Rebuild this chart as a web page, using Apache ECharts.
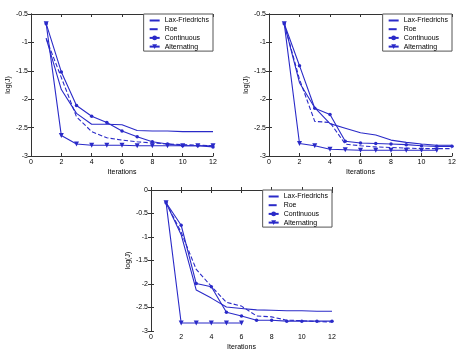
<!DOCTYPE html>
<html><head><meta charset="utf-8">
<script src="https://cdn.jsdelivr.net/npm/echarts@6/dist/echarts.min.js"></script>
<style>html,body{margin:0;padding:0;background:#fff}#c{width:474px;height:352px}</style>
</head><body><div id="c"></div><script>
const iterations = [1,2,3,4,5,6,7,8,9,10,11,12];
const seriesNames = ['Lax-Friedrichs','Roe','Continuous','Alternating'];
const xAxisName = 'Iterations';
const yAxisName = 'log(J)';
// Panel 1 (top left)
const p1LaxFriedrichs = [-0.93,-1.83,-2.25,-2.44,-2.44,-2.45,-2.55,-2.56,-2.56,-2.57,-2.57,-2.57];
const p1Roe = [-0.93,-1.62,-2.31,-2.57,-2.68,-2.72,-2.75,-2.77,-2.79,-2.80,-2.81,-2.82];
const p1Continuous = [-0.67,-1.52,-2.11,-2.30,-2.41,-2.56,-2.66,-2.75,-2.79,-2.82,-2.82,-2.84];
const p1Alternating = [-0.67,-2.64,-2.79,-2.81,-2.81,-2.81,-2.82,-2.82,-2.82,-2.82,-2.82,-2.82];
// Panel 2 (top right)
const p2LaxFriedrichs = [-0.67,-1.71,-2.15,-2.43,-2.51,-2.59,-2.63,-2.72,-2.76,-2.79,-2.81,-2.81];
const p2Roe = [-0.67,-1.65,-2.39,-2.41,-2.79,-2.82,-2.84,-2.85,-2.86,-2.87,-2.87,-2.87];
const p2Continuous = [-0.67,-1.41,-2.16,-2.27,-2.74,-2.77,-2.78,-2.79,-2.80,-2.82,-2.83,-2.83];
const p2Alternating = [-0.67,-2.78,-2.82,-2.88,-2.89,-2.90,-2.90,-2.90,-2.90,-2.90,-2.90];
// Panel 3 (bottom)
const p3LaxFriedrichs = [-0.27,-0.95,-2.13,-2.30,-2.49,-2.52,-2.55,-2.56,-2.57,-2.57,-2.58,-2.58];
const p3Roe = [-0.27,-0.90,-1.69,-2.05,-2.39,-2.47,-2.68,-2.70,-2.77,-2.78,-2.80,-2.81];
const p3Continuous = [-0.27,-0.75,-1.99,-2.06,-2.60,-2.68,-2.77,-2.77,-2.79,-2.79,-2.79,-2.79];
const p3Alternating = [-0.27,-2.83,-2.83,-2.83,-2.83,-2.83];

const BLUE = '#2a2ac8';
const FONT = 'Liberation Sans';
const panels = [
  {grid:{left:31,top:14,width:182,height:142}, ymin:-3, ymax:-0.5, data:[p1LaxFriedrichs,p1Roe,p1Continuous,p1Alternating]},
  {grid:{left:269,top:14,width:183,height:142}, ymin:-3, ymax:-0.5, data:[p2LaxFriedrichs,p2Roe,p2Continuous,p2Alternating]},
  {grid:{left:151,top:190,width:181,height:142}, ymin:-3, ymax:0, data:[p3LaxFriedrichs,p3Roe,p3Continuous,p3Alternating]}
];
const styles = [
  {type:'solid', symbol:'none', size:0},
  {type:'dashed', symbol:'none', size:0},
  {type:'solid', symbol:'circle', size:3.5},
  {type:'solid', symbol:'path://M0,0 L10,0 L5,9 Z', size:5}
];
const option = {animation:false, backgroundColor:'#fff', grid:[], xAxis:[], yAxis:[], series:[], legend:[]};
panels.forEach((p, pi) => {
  option.grid.push(p.grid);
  const axLine = {show:true, lineStyle:{color:'#333', width:1}};
  const tick = {show:true, inside:true, length:3, lineStyle:{color:'#333'}};
  option.xAxis.push({type:'value', gridIndex:pi, min:0, max:12, interval:2, position:'bottom',
    name:xAxisName, nameLocation:'middle', nameGap:13, nameTextStyle:{fontSize:7, fontFamily:FONT, color:'#000'},
    axisLine:axLine, axisTick:tick, splitLine:{show:false},
    axisLabel:{fontSize:7, fontFamily:FONT, color:'#000', margin:3}});
  option.xAxis.push({type:'value', gridIndex:pi, min:0, max:12, interval:2, position:'top',
    axisLine:axLine, axisTick:tick, splitLine:{show:false}, axisLabel:{show:false}});
  option.yAxis.push({type:'value', gridIndex:pi, min:p.ymin, max:p.ymax, interval:0.5, position:'left',
    name:yAxisName, nameLocation:'middle', nameGap:18, nameTextStyle:{fontSize:7, fontFamily:FONT, color:'#000'},
    axisLine:axLine, axisTick:tick, splitLine:{show:false},
    axisLabel:{fontSize:7, fontFamily:FONT, color:'#000', margin:3}});
  option.yAxis.push({type:'value', gridIndex:pi, min:p.ymin, max:p.ymax, interval:0.5, position:'right',
    axisLine:axLine, axisTick:tick, splitLine:{show:false}, axisLabel:{show:false}});
  p.data.forEach((vals, si) => {
    const st = styles[si];
    option.series.push({type:'line', name:seriesNames[si], xAxisIndex:pi*2, yAxisIndex:pi*2,
      data: vals.map((v,i)=>[iterations[i], v]),
      symbol:st.symbol, symbolSize:st.size, showSymbol:st.symbol!=='none',
      lineStyle:{color:BLUE, width:1.1, type:st.type}, itemStyle:{color:BLUE}});
  });
  const g = p.grid;
  option.legend.push({
    data: seriesNames.map((n,si)=> si < 2
      ? {name:n, itemStyle:{opacity:0, borderWidth:0}}
      : {name:n}),
    orient:'vertical', right: 474-(g.left+g.width), top: g.top,
    backgroundColor:'#fff', borderColor:'#555', borderWidth:1, borderRadius:0,
    padding:[3,4,1,5], itemGap:1.7, itemWidth:10, itemHeight:6,
    textStyle:{fontSize:7, lineHeight:7, fontFamily:FONT, color:'#000'},
    selectedMode:false
  });
});
const chart = echarts.init(document.getElementById('c'), null, {renderer:'canvas'});
chart.setOption(option);
</script></body></html>
